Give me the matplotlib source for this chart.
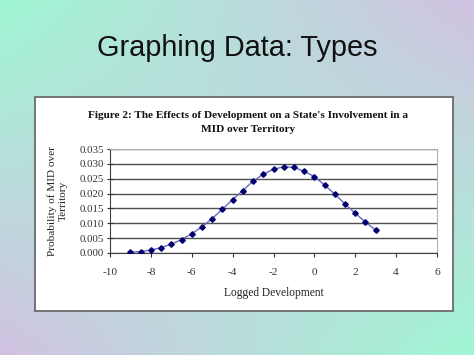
import numpy as np
import matplotlib.pyplot as plt
from matplotlib.patches import Rectangle

# data
dev = [-9, -8.5, -8, -7.5, -7, -6.5, -6, -5.5, -5, -4.5, -4, -3.5, -3,
       -2.5, -2, -1.5, -1, -0.5, 0, 0.5, 1, 1.5, 2, 2.5, 3]
prob = [0.0003, 0.0005, 0.0010, 0.0018, 0.0030, 0.0045, 0.0065, 0.0088,
        0.0116, 0.0147, 0.0180, 0.0210, 0.0242, 0.0265, 0.0282, 0.0290,
        0.0288, 0.0275, 0.0257, 0.0229, 0.0198, 0.0165, 0.0134, 0.0104,
        0.0077]
xticks = [-10, -8, -6, -4, -2, 0, 2, 4, 6]
yticks = [0.000, 0.005, 0.010, 0.015, 0.020, 0.025, 0.030, 0.035]

plt.rcParams['axes.unicode_minus'] = False

W, H = 474, 355
fig = plt.figure(figsize=(W / 100, H / 100), dpi=100)

# slide background: green top-left / bottom-right, lavender the other corners
bg = fig.add_axes([0, 0, 1, 1])
bg.set_zorder(-5)
u, v = np.meshgrid(np.linspace(0, 1, 200), np.linspace(0, 1, 150))
t = u + v - 2 * u * v
green = np.array([160, 247, 212]) / 255
lav = np.array([210, 194, 226]) / 255
img = green[None, None, :] * (1 - t[..., None]) + lav[None, None, :] * t[..., None]
bg.imshow(img, aspect='auto', extent=[0, 1, 0, 1], origin='upper')
bg.set_xlim(0, 1)
bg.set_ylim(0, 1)
bg.axis('off')

# white chart box
bg.add_patch(Rectangle((35 / W, 1 - 311 / H), 418 / W, 214 / H,
                       facecolor='white', edgecolor='#606060', lw=1.2))

fig.text(0.5, 0.866, "Graphing Data: Types", ha='center', va='center',
         fontsize=20.8, family='Liberation Sans', color='#111111')

fig.text(248 / W, 1 - 115 / H,
         "Figure 2: The Effects of Development on a State's Involvement in a",
         ha='center', va='center', fontsize=8.1, fontweight='bold',
         family='Liberation Serif', color='#111111')
fig.text(248 / W, 1 - 129 / H, "MID over Territory", ha='center', va='center',
         fontsize=8.1, fontweight='bold', family='Liberation Serif',
         color='#111111')

ax = fig.add_axes([110 / W, 1 - 253 / H, 327 / W, 104 / H])
ax.set_facecolor('white')
ax.plot(dev, prob, color='#6a6ac0', lw=1, zorder=2)
ax.plot(dev, prob, ls='none', marker='D', ms=2.8, color='#00006e', zorder=3)

ax.set_xlim(-10, 6)
ax.set_ylim(0, 0.035)
ax.set_xticks(xticks)
ax.set_yticks(yticks)
ax.set_yticklabels([f"{y:.3f}" for y in yticks])
ax.grid(axis='y', color='#505050', lw=1)
ax.set_axisbelow(True)

for s in ['top', 'right']:
    ax.spines[s].set_color('#b0b0b0')
for s in ['left', 'bottom']:
    ax.spines[s].set_color('#404040')

ax.tick_params(axis='y', direction='inout', length=5, labelsize=7.8,
               colors='#333333', pad=2)
ax.tick_params(axis='x', direction='out', length=3, labelsize=8.2,
               colors='#333333', pad=8)
for lab in ax.get_xticklabels() + ax.get_yticklabels():
    lab.set_family('Liberation Serif')

ax.set_xlabel("Logged Development", family='Liberation Serif', fontsize=8.3,
              color='#222222', labelpad=7)
fig.text(58 / W, 1 - 201 / H, "Probability of MID over\nTerritory",
         rotation=90, ha='center', va='center', family='Liberation Serif',
         fontsize=8.1, color='#222222', linespacing=1.25)

fig.savefig("out.png", dpi=100)
